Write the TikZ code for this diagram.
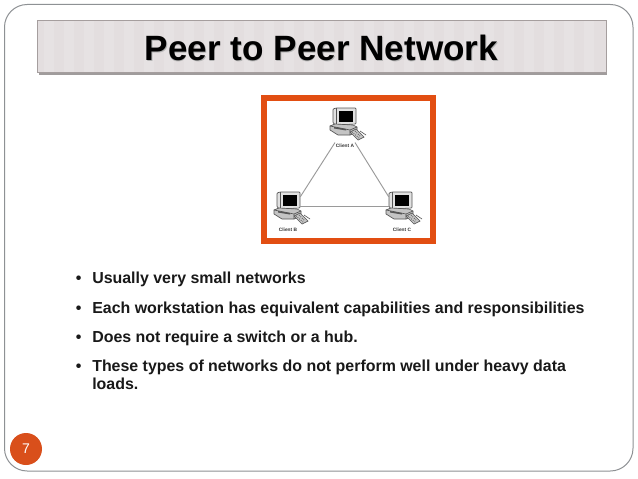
\documentclass[tikz,border=0pt]{standalone}
\usepackage{fontspec}
\setmainfont{Liberation Sans}
\definecolor{framegray}{HTML}{8E9194}
\definecolor{bannerfill}{HTML}{E3DEDF}
\definecolor{bannerstripe}{HTML}{E6E2E3}
\definecolor{bannerline}{HTML}{A59E9E}
\definecolor{shadowgray}{HTML}{A09C9C}
\definecolor{accent}{HTML}{E24E12}
\definecolor{badge}{HTML}{D94F1B}
\definecolor{linkgray}{HTML}{9A9A9A}
\definecolor{pcgray}{HTML}{555555}
\definecolor{pclight}{HTML}{C4C4C4}
\tikzset{
  x=0.75pt,y=-0.75pt,
  titletext/.style={font=\bfseries\fontsize{26.35pt}{30pt}\selectfont,text=black,inner sep=0pt},
  bullettext/.style={font=\bfseries\fontsize{11.95pt}{14pt}\selectfont,text=black!90,anchor=base west,inner sep=0pt},
  clientlabel/.style={font=\bfseries\fontsize{3.6pt}{4pt}\selectfont,text=black!80,inner sep=0.5pt,minimum width=12pt,minimum height=4pt},
  monitorbox/.style={minimum width=17.25pt,minimum height=12pt,inner sep=0pt},
  link/.style={draw=linkgray,line width=0.7pt},
  pcpart/.style={draw=pcgray,line width=0.5pt,fill=pclight},
  computer/.pic={
    % origin is the top-left corner of the monitor
    \fill[pclight!50!white,draw=pcgray,line width=0.5pt,rounded corners=0.6pt] (0,1) -- (3,0) -- (23,0) -- (23,16) -- (3,17) -- (0,15) -- cycle;
    \draw[pcgray,line width=0.5pt] (3,0) -- (3,17);
    \fill[black] (6,3) rectangle (20,14);
    \fill[pcpart] (-3,18) -- (2,16) -- (20,17) -- (24,19) -- (24,24) -- (17,27) -- (5,27) -- (-3,22) -- cycle;
    \draw[pcgray,line width=0.5pt] (-3,18) -- (17,22) -- (24,19) (17,22) -- (17,27);
    \fill[pcgray] (1,19) -- (13,21) -- (13,22.5) -- (1,20.5) -- cycle;
    \fill[pcpart] (17,24) -- (23,21) -- (31,29) -- (25,32) -- cycle;
    \draw[pcgray,line width=0.6pt,densely dotted] (19,24) -- (26,30) (22,23) -- (28,29);
    \draw[pcgray,line width=0.5pt] (27,23) -- (33,27);
  }
}
\begin{document}
\begin{tikzpicture}
\useasboundingbox (0,0) rectangle (638,478);
\fill[white] (0,0) rectangle (638,478);
% slide frame
\draw[framegray,line width=0.75pt,rounded corners=17pt] (4.5,4.5) rectangle (633,471);
% banner
\fill[shadowgray] (39,24) rectangle (607,75.5);
\fill[bannerfill] (37,21) rectangle (606,73);
\foreach \sx in {44,64,...,594} \fill[bannerstripe] (\sx,21.5) rectangle ++(10,51);
\draw[bannerline,line width=0.75pt] (37,21) rectangle (606,73);
\node[titletext,text=black!30] at (322,48.6) {Peer to Peer Network};
\node[titletext] (title) at (321.5,48) {Peer to Peer Network};
% picture frame
\draw[accent,line width=4.3pt] (263.9,98) rectangle (433,241.2);
% computers
\node[monitorbox] (monA) at (344.5,116) {};
\node[monitorbox] (monB) at (288.5,200) {};
\node[monitorbox] (monC) at (400.5,200) {};
\pic at (333,108) {computer};
\pic at (277,192) {computer};
\pic at (389,192) {computer};
\node[clientlabel] (clientA) at (345,145.5) {Client A};
\node[clientlabel] (clientB) at (288,229.5) {Client B};
\node[clientlabel] (clientC) at (402,229.5) {Client C};
\draw[link] (clientA.north west) -- (monB.15);
\draw[link] (clientA.north east) -- (monC.165);
\draw[link] (monB.-27) -- (monC.207);
% bullets
\foreach \ly/\tx in {
  283/Usually very small networks,
  313/Each workstation has equivalent capabilities and responsibilities,
  342/Does not require a switch or a hub.,
  371/These types of networks do not perform well under heavy data} {
  \node[bullettext] at (75.5,\ly) {•};
  \node[bullettext] at (92,\ly) {\tx};
}
\node[bullettext] at (92,389) {loads.};
% page number
\node[circle,fill=badge,minimum size=24pt,inner sep=0pt,text=white,font=\fontsize{10.5pt}{12pt}\selectfont] (page) at (26,449) {7};
\end{tikzpicture}
\end{document}
